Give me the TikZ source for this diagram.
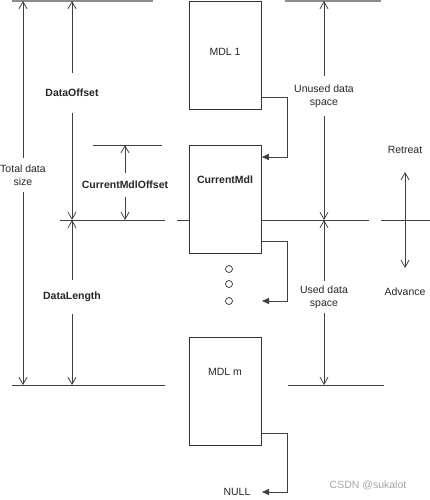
\documentclass[tikz,border=0pt]{standalone}
\usepackage{fontspec}
\setmainfont{Liberation Sans}
\usetikzlibrary{arrows.meta}
\begin{document}
\begin{tikzpicture}[x=1pt,y=-1pt,
  every node/.style={font=\fontsize{10.5}{13}\selectfont, text=black!85},
  ln/.style={draw=black!75, line width=0.8pt},
  topln/.style={draw=black!45, line width=2pt},
  dim/.style={ln, -{Straight Barb[length=7pt,width=8pt]}},
  conn/.style={ln, -{Triangle[length=7pt,width=6pt]}},
  mdl/.style={draw=black!80, line width=0.8pt, minimum width=72pt, minimum height=108pt, inner sep=0pt, anchor=north west},
  lbl/.style={align=center, inner xsep=0pt},
  dot/.style={circle, draw=black!80, line width=0.7pt, minimum size=7pt, inner sep=0pt}
]
\useasboundingbox (0,0) rectangle (430,500);

% boxes
\node[mdl] (m1) at (189,1) {};
\node at (225,52) {MDL 1};
\node[mdl] (cm) at (189,145) {};
\node[font=\fontsize{10.5}{13}\selectfont\bfseries] at (225,180) {CurrentMdl};
\node[mdl] (mm) at (189,337) {};
\node at (225,372) {MDL m};

% horizontal lines
\coordinate (tl1) at (12,1);   \coordinate (tl2) at (153,1);
\coordinate (tr1) at (285,1);  \coordinate (tr2) at (381,1);
\draw[topln] (tl1) -- (tl2);
\draw[topln] (tr1) -- (tr2);
\coordinate (o1) at (93,145); \coordinate (o2) at (162,145);
\draw[ln] (o1) -- (o2);
\coordinate (h1) at (60,220); \coordinate (h2) at (165,220);
\coordinate (h3) at (177,220); \coordinate (h4) at (261,220);
\coordinate (h5) at (369,220); \coordinate (h6) at (381,220);
\coordinate (h7) at (430,220);
\draw[ln] (h1) -- (h2);
\draw[ln] (h3) -- (cm.west |- h3);
\draw[ln] (h4) -- (h5);
\draw[ln] (h6) -- (h7);
\coordinate (b1) at (12,385); \coordinate (b2) at (165,385);
\coordinate (b3) at (288,385); \coordinate (b4) at (384,385);
\draw[ln] (b1) -- (b2);
\draw[ln] (b3) -- (b4);

% Total data size
\node[lbl, inner ysep=6pt] (tot) at (23,175) {Total data\\size};
\draw[dim] (tot.north) -- (23,1);
\draw[dim] (tot.south) -- (23,385);

% DataOffset
\node[lbl, font=\fontsize{10.5}{13}\selectfont\bfseries, minimum height=39pt] (dof) at (72,93) {DataOffset};
\draw[dim] (dof.north) -- (72,1);
\draw[dim] (dof.south) -- (72,220);

% DataLength
\node[lbl, font=\fontsize{10.5}{13}\selectfont\bfseries, minimum height=33pt] (dl) at (72,297) {DataLength};
\draw[dim] (dl.north) -- (72,220);
\draw[dim] (dl.south) -- (72,385);

% CurrentMdlOffset
\node[lbl, font=\fontsize{10.5}{13}\selectfont\bfseries, minimum height=24pt] (cmo) at (125,185) {CurrentMdlOffset};
\draw[dim] (cmo.north) -- (125,145);
\draw[dim] (cmo.south) -- (125,220);

% Unused data space
\node[lbl, minimum height=39pt] (un) at (324,96) {Unused data\\space};
\draw[dim] (un.north) -- (324,1);
\draw[dim] (un.south) -- (324,220);

% Used data space
\node[lbl, minimum height=31pt] (us) at (324,297) {Used data\\space};
\draw[dim] (us.north) -- (324,220);
\draw[dim] (us.south) -- (324,385);

% Retreat / Advance
\coordinate (ra) at (405,220);
\coordinate (rt) at (405,172);
\coordinate (ad) at (405,268);
\draw[dim] (ra) -- (rt);
\draw[dim] (ra) -- (ad);
\node (ret) at (405,150) {Retreat};
\node (adv) at (405,292) {Advance};

% dots
\node[dot] (d1) at (229,269) {};
\node[dot] (d2) at (229,284) {};
\node[dot] (d3) at (229,301) {};

% connectors
\draw[conn] ([yshift=12pt]m1.south east) -- ++(26,0) |- ([yshift=-12pt]cm.north east);
\coordinate (c2) at (262,301);
\draw[conn] ([yshift=12pt]cm.south east) -- ++(26,0) |- (c2);
\node[inner sep=0pt] (null) at (237,492) {NULL};
\coordinate (c3) at (262,492);
\draw[conn] ([yshift=12pt]mm.south east) -- ++(26,0) |- (c3);

% watermark
\node[text=black!35] (wm) at (368,485) {CSDN @sukalot};
\end{tikzpicture}
\end{document}
